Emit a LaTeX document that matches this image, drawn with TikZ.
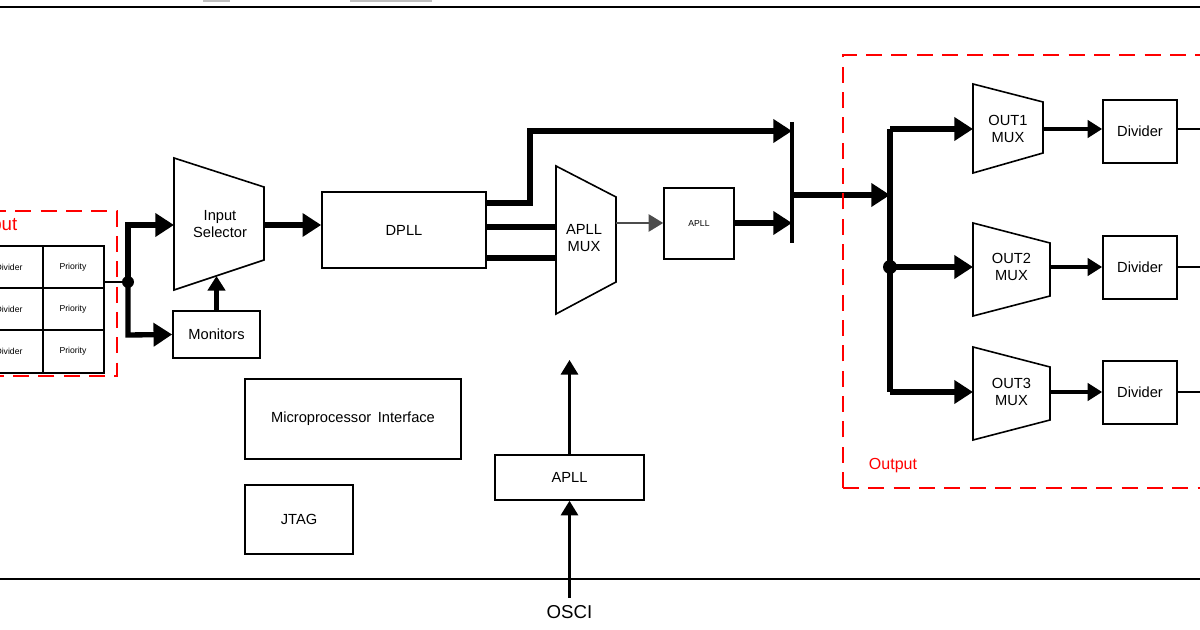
\documentclass[tikz,border=0pt]{standalone}
\usepackage{fontspec}
\setmainfont{Liberation Sans}
\usetikzlibrary{arrows.meta}
\begin{document}
\begin{tikzpicture}[x=0.75pt,y=-0.75pt,
  box/.style={draw,line width=1.2pt,inner sep=0pt},
  thick/.style={line width=4pt},
  thin/.style={line width=1.3pt},
  ar/.style={-{Triangle[width=17pt,length=14pt]}},
  sar/.style={-{Triangle[width=13pt,length=11pt]}},
  red/.style={draw=red,line width=2.2pt,dash pattern=on 12pt off 7pt},
  lbl/.style={font=\fontsize{11}{13}\selectfont},
  sm/.style={font=\fontsize{6.5}{7}\selectfont},
  trap/.style={draw,line width=1.2pt,fill=white}]
\useasboundingbox (0,0) rectangle (1200,630);
\clip (0,0) rectangle (1200,630);
% frame lines
\fill[gray!50] (203,0) rectangle (230,2);
\fill[gray!50] (350,0) rectangle (432,2);
\draw[line width=1.5pt] (0,7) -- (1200,7);
\draw[line width=1.5pt] (0,579) -- (1200,579);
% input region
\draw[red] (-10,211) -- (117,211) -- (117,376) -- (-10,376);
\node[text=red,font=\fontsize{14}{15}\selectfont,anchor=east] (inlbl) at (22,226) {Input};
\foreach \r/\ya/\yb in {1/246/288,2/288/330,3/330/373}{
  \draw[box] (-40,\ya) rectangle (43,\yb);
  \draw[box] (43,\ya) rectangle (104,\yb);
  \node[sm] (d\r) at (9,{(\ya+\yb)/2}) {Divider};
  \node[sm] (p\r) at (73,{(\ya+\yb)/2}) {Priority};
}
\coordinate (tout) at (104,282);
\coordinate (j) at (128,282);
\draw[thin] (tout) -- (j);
\fill (j) circle (6);
% input selector
\draw[trap] (174,158) -- (264,187) -- (264,260) -- (174,290) -- cycle;
\node[lbl,align=center] (insel) at (220,224) {Input\\Selector};
\node[box,minimum width=87*0.75pt,minimum height=47*0.75pt,lbl] (mon) at (216.5,334.5) {Monitors};
\draw[thick,ar] (j) -- (128,225) -- (174,225);
\draw[thick,ar] (j) -- (128,335) -- (mon.west);
\draw[thick,sar] (mon.north) -- (216.5,276);
% DPLL
\node[box,minimum width=164*0.75pt,minimum height=76*0.75pt,lbl] (dpll) at (404,230) {DPLL};
\draw[thick,ar] (264,225) -- (dpll.west |- 264,225);
% APLL mux
\draw[trap] (556,166) -- (616,197) -- (616,282) -- (556,314) -- cycle;
\node[lbl,align=center] (amux) at (584,238) {APLL\\MUX};
\draw[thick] (486,227) -- (556,227);
\draw[thick] (486,258) -- (556,258);
\coordinate (bar1) at (792,122);
\coordinate (bar2) at (792,243);
\draw[thick,ar] (486,203) -- (530,203) -- (530,131) -- (792,131);
\node[box,minimum width=70*0.75pt,minimum height=71*0.75pt,sm] (apll) at (699,223.5) {APLL};
\draw[line width=1.5pt,gray!60!black,sar] (616,223) -- (apll.west |- 616,223);
\draw[thick,ar] (apll.east |- 734,223) -- (792,223);
\draw[line width=3pt] (bar1) -- (bar2);
\draw[thick,ar] (792,195) -- (890,195);
% output region
\draw[red] (843,488) -- (843,55) -- (1210,55);
\draw[red] (843,488) -- (1210,488);
\node[text=red,font=\fontsize{12}{14}\selectfont] (outlbl) at (893,466) {Output};
\coordinate (b1) at (890,129);
\coordinate (b3) at (890,392);
\draw[thick] (b1) -- (b3);
\fill (890,267) circle (7);
\foreach \i/\lt/\lb/\rt/\rb/\rx/\yc/\dy in {1/84/173/102/153/1043/129/131.5,2/223/316/243/296/1050/267/267.5,3/347/440/367/420/1050/392/392.5}{
  \draw[trap] (973,\lt) -- (\rx,\rt) -- (\rx,\rb) -- (973,\lb) -- cycle;
  \node[lbl,align=center] (om\i) at ({(973+\rx)/2},\yc) {OUT\i\\MUX};
  \draw[thick,ar] (890,\yc) -- (973,\yc);
  \node[box,minimum width=74*0.75pt,minimum height=63*0.75pt,lbl] (dv\i) at (1140,\dy) {Divider};
  \draw[line width=3pt,sar] (\rx,\yc) -- (dv\i.west |- \rx,\yc);
  \draw[thin] (dv\i.east |- 1177,\yc) -- (1205,\yc);
}
% misc boxes
\node[box,minimum width=216*0.75pt,minimum height=80*0.75pt,lbl] (mpi) at (353,419) {Microprocessor\, Interface};
\node[box,minimum width=108*0.75pt,minimum height=69*0.75pt,lbl] (jtag) at (299,519.5) {JTAG};
\node[box,minimum width=149*0.75pt,minimum height=45*0.75pt,lbl] (apll2) at (569.5,477.5) {APLL};
\coordinate (amuxin) at (569.5,360);
\draw[line width=1.8pt,sar] (apll2.north) -- (amuxin);
\node[font=\fontsize{14}{16}\selectfont] (osci) at (569.5,612) {OSCI};
\coordinate (osc) at (569.5,598);
\draw[line width=1.8pt,sar] (osc) -- (apll2.south);
\end{tikzpicture}
\end{document}
